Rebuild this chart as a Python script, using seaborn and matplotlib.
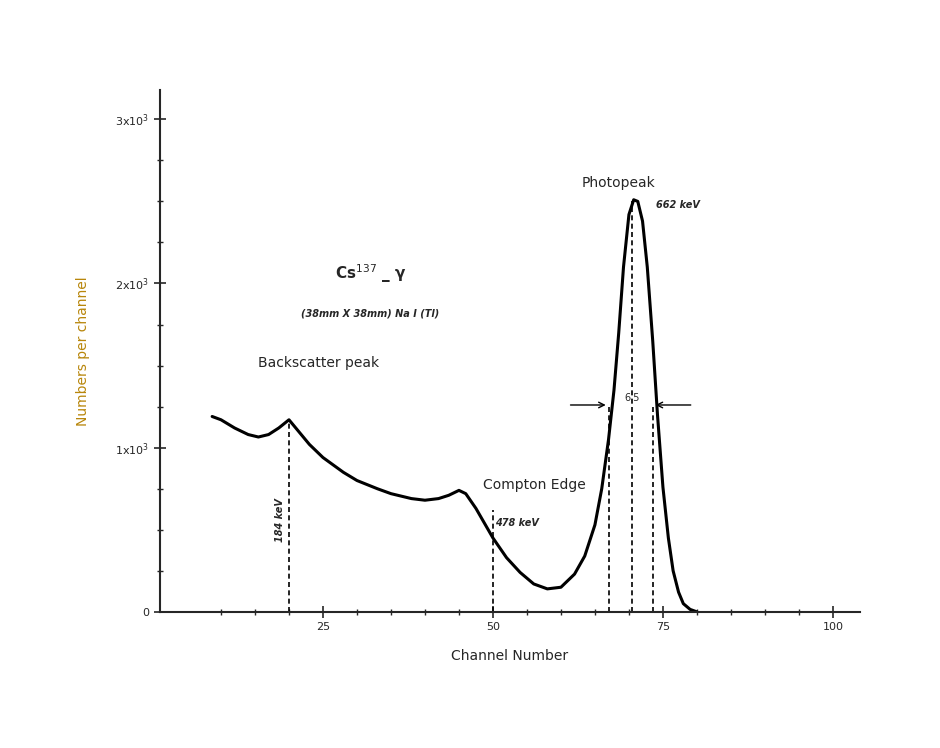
import numpy as np
import matplotlib
matplotlib.use("Agg")
import matplotlib.pyplot as plt
import seaborn as sns
import pandas as pd

# Cs-137 gamma spectrum
channel = [8.7, 10, 12, 14, 15.5, 17, 18.5, 20, 21, 23, 25, 28, 30, 33, 35, 38, 40, 42, 43.5, 45, 46, 47.5,
           50, 52, 54, 56, 58, 60, 62, 63.5, 65, 66, 67, 67.8, 68.5, 69.2, 70, 70.7, 71.3, 72, 72.7,
           73.5, 74.2, 75, 75.8, 76.5, 77.3, 78, 79, 80]
counts = [1190, 1170, 1120, 1080, 1065, 1080, 1120, 1170, 1120, 1020, 940, 850, 800, 750, 720, 690, 680, 690, 710, 740, 720, 630,
          450, 330, 240, 170, 140, 150, 230, 340, 530, 750, 1050, 1350, 1700, 2100, 2420, 2510, 2500, 2380, 2100,
          1650, 1200, 760, 450, 250, 120, 50, 15, 0]
markers = [20, 50, 67, 70.5, 73.5]
marker_tops = [1170, 620, 1260, 2500, 1260]

df = pd.DataFrame({"channel": channel, "counts": counts})

sns.set_style("ticks")
fig = plt.figure(figsize=(9.4, 7.48), dpi=100)
ax = fig.add_axes([0.170, 0.182, 0.745, 0.698])
sns.lineplot(data=df, x="channel", y="counts", ax=ax, color="black", linewidth=2.2)

for x, top in zip(markers, marker_tops):
    ax.plot([x, x], [0, top], color="black", linestyle=(0, (3, 2)), linewidth=1.2)

# FWHM arrows
ax.annotate("", xy=(67, 1260), xytext=(61, 1260),
            arrowprops=dict(arrowstyle="->", color="black", lw=1))
ax.annotate("", xy=(73.5, 1260), xytext=(79.5, 1260),
            arrowprops=dict(arrowstyle="->", color="black", lw=1))
ax.text(70.5, 1270, "6.5", fontsize=7, ha="center", va="bottom")

ax.text(68.5, 2570, "Photopeak", fontsize=10, ha="center", va="bottom")
ax.text(74, 2460, "662 keV", fontsize=7, style="italic", weight="bold")
ax.text(15.5, 1490, "Backscatter peak", fontsize=10)
ax.text(48.5, 750, "Compton Edge", fontsize=10)
ax.text(50.3, 520, "478 keV", fontsize=7, style="italic", weight="bold")
ax.text(19.4, 560, "184 keV", fontsize=7, style="italic", weight="bold", rotation=90, ha="right", va="center")
ax.text(32, 2030, "Cs$^{137}$ _ γ", fontsize=11, weight="bold", ha="center")
ax.text(32, 1800, "(38mm X 38mm) Na I (Tl)", fontsize=7, style="italic", weight="bold", ha="center")

ax.set_xlim(1, 104)
ax.set_ylim(0, 3180)
ax.set_xticks([25, 50, 75, 100])
ax.set_xticks(np.arange(10, 105, 5), minor=True)
ax.set_yticks([0, 1000, 2000, 3000])
ax.set_yticklabels(["0", "1x10$^3$", "2x10$^3$", "3x10$^3$"])
ax.set_yticks(np.arange(250, 3000, 250), minor=True)
ax.tick_params(which="major", length=8, direction="inout", labelsize=8, width=1.2)
ax.tick_params(which="minor", length=5, direction="inout", width=1)
for s in ["top", "right"]:
    ax.spines[s].set_visible(False)
for s in ["left", "bottom"]:
    ax.spines[s].set_linewidth(1.5)
ax.set_xlabel("Channel Number", fontsize=10, labelpad=12)
ax.set_ylabel("Numbers per channel", fontsize=10, color="#b8860b", labelpad=18)

fig.savefig("out.png", dpi=100)
